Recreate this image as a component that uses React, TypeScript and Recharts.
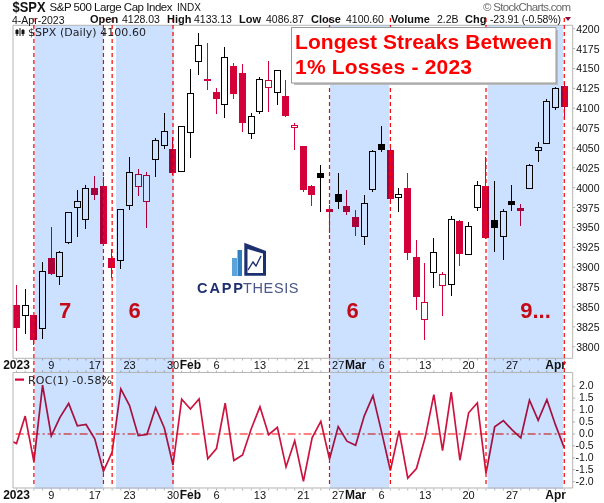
import React from "react";
import { ComposedChart, Bar, Line, XAxis, YAxis, ReferenceArea, ReferenceLine } from "recharts";

// ---- values ---------------------------------------------------------------
const sessions = ["Jan 3","Jan 4","Jan 5","Jan 6","Jan 9","Jan 10","Jan 11","Jan 12","Jan 13","Jan 17","Jan 18","Jan 19","Jan 20","Jan 23","Jan 24","Jan 25","Jan 26","Jan 27","Jan 30","Jan 31",
  "Feb 1","Feb 2","Feb 3","Feb 6","Feb 7","Feb 8","Feb 9","Feb 10","Feb 13","Feb 14","Feb 15","Feb 16","Feb 17","Feb 21","Feb 22","Feb 23","Feb 24","Feb 27","Feb 28",
  "Mar 1","Mar 2","Mar 3","Mar 6","Mar 7","Mar 8","Mar 9","Mar 10","Mar 13","Mar 14","Mar 15","Mar 16","Mar 17","Mar 20","Mar 21","Mar 22","Mar 23","Mar 24","Mar 27","Mar 28","Mar 29","Mar 30","Mar 31","Apr 3","Apr 4"];
const opens = [3853,3840,3840,3823,3911,3889,3932,3976,3961,3999,4002,3912,3909,3978,4002,3983,4036,4054,4049,4021,
  4070,4159,4137,4120,4105,4153,4144,4069,4097,4127,4120,4115,4077,4052,4002,4018,3973,3992,3977,
  3963,3939,3998,4055,4048,3988,3999,3913,3835,3894,3877,3879,3958,3917,3976,4002,3959,3939,3983,3974,4000,4047,4056,4102,4128];
const highs = [3878,3873,3840,3906,3951,3920,3970,3997,4004,4015,4014,3923,3973,4039,4024,4020,4062,4094,4064,4077,
  4149,4195,4182,4125,4177,4157,4156,4094,4139,4160,4148,4136,4082,4052,4003,4028,3978,4018,3997,
  3972,3991,4048,4078,4050,4000,4018,3934,3905,3937,3894,3964,3959,3957,4009,4039,4008,3973,4004,3979,4030,4058,4111,4127,4133];
const lows = [3794,3816,3802,3810,3890,3877,3929,3938,3948,3985,3927,3886,3898,3972,3990,3949,4013,4049,4016,4020,
  4037,4142,4123,4093,4088,4112,4070,4061,4093,4095,4104,4089,4048,3995,3977,3969,3943,3973,3966,
  3939,3928,3995,4045,3981,3970,3909,3846,3809,3874,3838,3864,3901,3917,3971,3936,3919,3909,3971,3952,3999,4032,4056,4098,4087];
const closes = [3824,3853,3808,3895,3892,3919,3970,3983,3999,3991,3929,3899,3973,4020,4017,4016,4060,4071,4018,4077,
  4119,4180,4136,4111,4164,4118,4082,4090,4137,4136,4148,4090,4079,3997,3991,4012,3970,3982,3970,
  3951,3981,4046,4048,3986,3992,3918,3862,3856,3919,3892,3960,3917,3952,4003,3937,3949,3971,3978,3971,4028,4051,4109,4125,4101];
const rocValues = [-0.40,0.75,-1.16,2.05,-0.08,0.70,1.28,0.34,0.40,-0.20,-1.56,-0.76,1.89,1.19,-0.07,-0.02,1.10,0.25,-1.30,1.46,
  1.05,1.47,-1.04,-0.61,1.29,-1.11,-0.88,0.22,1.14,-0.03,0.28,-1.38,-0.28,-1.98,-0.16,0.53,-1.05,0.31,-0.30,
  -0.47,0.76,1.61,0.07,-1.53,0.14,-1.85,-1.45,-0.15,1.65,-0.70,1.76,-1.10,0.89,1.30,-1.65,0.30,0.56,0.17,-0.16,1.42,0.57,1.44,0.37,-0.58];
const rocBeforeFirst = -0.33;

const priceTicks = [3800,3825,3850,3875,3900,3925,3950,3975,4000,4025,4050,4075,4100,4125,4150,4175,4200];
const rocTicks = [-2,-1.5,-1,-0.5,0,0.5,1,1.5,2];
const dateLabels: Record<number, [string, boolean]> = {
  0:["2023",true],4:["9",false],9:["17",false],13:["23",false],18:["30",false],20:["Feb",true],23:["6",false],28:["13",false],33:["21",false],
  37:["27",false],39:["Mar",true],42:["6",false],47:["13",false],52:["20",false],57:["27",false],62:["Apr",true],
};
const streakMarkers = [2,10,11,18,36,43,54,63];
const streakBands: [number, number][] = [[2.07,10],[11.44,18.08],[36.05,42.87],[54.19,62.87]];
const streakLabels: [string, number][] = [["7",65],["6",134.7],["6",352.7],["9...",535.5]];

// ---- chart table ----------------------------------------------------------
const table: any[] = [
  { i: -0.4, roc: rocBeforeFirst },
  ...sessions.map((s, i) => ({ i, s, open: opens[i], high: highs[i], low: lows[i], close: closes[i], roc: rocValues[i], range: [lows[i], highs[i]] })),
];

const RED = "#d4003a";
const FRAME = "#b4b4b4";
const W = 604, H = 503;
const UI = "'Liberation Sans', Arial, sans-serif";
const WIDE = "'DejaVu Sans', Verdana, sans-serif";
const X_DOMAIN: [number, number] = [-0.4025, 63.97];
const PRICE_DOMAIN: [number, number] = [3621, 4213.46];
const ROC_DOMAIN: [number, number] = [-2.306, 17.44];

function Candle(props: any) {
  const { x, y, width, height, payload } = props;
  if (!payload || payload.open == null) return null;
  const { open, high, low, close, i } = payload;
  const toY = (v: number) => y + ((high - v) / (high - low)) * height;
  const cx = Math.floor(x + width / 2) + 0.5;
  const down = rocValues[i] < 0;
  const color = down ? RED : "#000";
  const hollow = close > open;
  const top = Math.round(toY(Math.max(open, close)));
  const bottom = Math.round(toY(Math.min(open, close)));
  const bodyH = Math.max(bottom - top, 2);
  return (
    <g>
      <line x1={cx} x2={cx} y1={Math.round(y)} y2={Math.round(y + height)} stroke={color} strokeWidth={1} />
      {hollow ? (
        <rect x={cx - 3} y={top + 0.5} width={6} height={bodyH} fill="#fff" stroke={color} strokeWidth={1} />
      ) : (
        <rect x={cx - 3.5} y={top} width={7} height={bodyH} fill={color} />
      )}
    </g>
  );
}

function DateTick(props: any) {
  const { x, payload } = props;
  const lab = dateLabels[payload.value];
  return (
    <g>
      {[358.5, 488.5].map((yy) => (
        <line key={yy} x1={x} x2={x} y1={yy} y2={yy + 2} stroke={FRAME} />
      ))}
      {[372.5].map((yy) => (
        <line key={yy} x1={x} x2={x} y1={yy - 2} y2={yy} stroke={FRAME} />
      ))}
      {lab &&
        [369, 499].map((yy) => (
          <text key={yy} x={x} y={yy} textAnchor="middle" fontFamily={UI} fontSize={lab[1] ? 12 : 11} fontWeight={lab[1] ? 700 : 400} fill="#111">
            {lab[0]}
          </text>
        ))}
    </g>
  );
}

function PriceTick(props: any) {
  const { x, y, payload } = props;
  const base = x - 8;
  return (
    <g>
      <line x1={base} x2={base + 2.5} y1={y} y2={y} stroke={FRAME} />
      <text x={base + 3.5} y={y + 4} fontFamily={UI} fontSize={10.5} fill="#111">{payload.value}</text>
    </g>
  );
}

function RocTick(props: any) {
  const { x, y, payload } = props;
  const base = x - 9;
  return (
    <g>
      <line x1={base} x2={base + 2.5} y1={y} y2={y} stroke={FRAME} />
      <text x={base + 21} y={y + 3} textAnchor="end" fontFamily={UI} fontSize={10.5} fill="#111">{payload.value.toFixed(1)}</text>
    </g>
  );
}

// A layer without visible axes, sharing the main chart's plot rectangle.
function Layer({ children, blend }: { children: React.ReactNode; blend?: boolean }) {
  return (
    <div style={{ position: "absolute", left: 0, top: 0, pointerEvents: "none", mixBlendMode: blend ? "multiply" : undefined }}>
      <ComposedChart width={W} height={H} data={table} margin={{ top: 18, right: 31.3, bottom: 14, left: 13 }}>
        <XAxis dataKey="i" type="number" domain={X_DOMAIN} allowDataOverflow hide />
        <YAxis yAxisId="price" orientation="right" type="number" domain={PRICE_DOMAIN} allowDataOverflow hide />
        <YAxis yAxisId="roc" orientation="right" type="number" domain={ROC_DOMAIN} allowDataOverflow hide />
        {children}
      </ComposedChart>
    </div>
  );
}

function Overlay() {
  const t = (x: number, y: number, s: string, size: number, bold = false, fam = UI, fill = "#111", extra: any = {}) => (
    <text x={x} y={y} fontFamily={fam} fontSize={size} fontWeight={bold ? 700 : 400} fill={fill} {...extra}>{s}</text>
  );
  return (
    <svg width={W} height={H} style={{ position: "absolute", left: 0, top: 0, pointerEvents: "none" }}>
      {t(12.5, 11.5, "$SPX", 14, true, UI, "#111", { textLength: 33, lengthAdjust: "spacingAndGlyphs" })}
      {t(49.5, 11, "S&P 500 Large Cap Index", 11.5, false, UI, "#111", { textLength: 123 })}
      {t(177, 11, "INDX", 10, false, UI, "#111", { textLength: 24 })}
      {t(12, 23.5, "4-Apr-2023", 10.5, false, UI)}
      {t(90, 23, "Open", 11, true, UI)}{t(122, 23, "4128.03", 10.5, false, UI)}
      {t(167, 23, "High", 11, true, UI)}{t(194, 23, "4133.13", 10.5, false, UI)}
      {t(239, 23, "Low", 11, true, UI)}{t(266, 23, "4086.87", 10.5, false, UI)}
      {t(311, 23, "Close", 11, true, UI)}{t(346, 23, "4100.60", 10.5, false, UI)}
      {t(391, 23, "Volume", 11, true, UI)}{t(437, 23, "2.2B", 10.5, false, UI)}
      {t(465, 23, "Chg", 11, true, UI)}{t(490, 23, "-23.91 (-0.58%)", 10.5, false, UI, "#111", { textLength: 71 })}
      <polygon points="565,17 571,17 568,21" fill="#8a0a3a" />
      {t(483, 11, "\u00a9 StockCharts.com", 11.5, false, UI, "#666", { textLength: 88 })}
      {t(28, 36, "$SPX (Daily) 4100.60", 11, false, WIDE, "#222", { textLength: 118 })}
      <g stroke="#111" strokeWidth={1}><line x1={17} x2={17} y1={29} y2={36}/><line x1={20} x2={20} y1={28} y2={36}/><line x1={23} x2={23} y1={29} y2={36}/></g>
      <rect x={15.5} y={30} width={3} height={4} fill="#111"/><rect x={21.5} y={30} width={3} height={4} fill="#111"/>
      <rect x={15} y={378.5} width={9} height={2.2} fill={RED} />
      {t(28, 383.5, "ROC(1) -0.58%", 11, false, WIDE, "#222", { textLength: 84 })}

      <rect x={294} y={30} width={264} height={55} fill="#bbb" />
      <rect x={291.5} y={27.5} width={264.5} height={55.5} fill="#fff" stroke="#999" />
      {t(295, 49, "Longest Streaks Between", 21, true, UI, "#f00", { textLength: 257 })}
      {t(295, 74, "1% Losses - 2023", 21, true, UI, "#f00", { textLength: 177 })}

      {streakLabels.map(([s, x], k) => (
        <text key={k} x={x} y={318} textAnchor="middle" fontFamily={UI} fontSize={22} fontWeight={700} fill="#c40a14">{s}</text>
      ))}

      <rect x={232} y={258} width={5} height={18} fill="#5ba3d9" />
      <rect x={237.5} y={250} width={4.5} height={26} fill="#2f7fc0" />
      <polygon points="244.3,242.7 266,251 266,275.7 244.3,275.7" fill="#1d2f6f" />
      <polygon points="247.5,249 263,253.5 263,273 247.5,273" fill="#fff" />
      <polyline points="248,270 253,262 256,266 261,256" fill="none" stroke="#1d2f6f" strokeWidth={1.4} />
      <text x={197} y={292.7} fontFamily={UI} fontSize={14.5} fontWeight={700} fill="#1d2f6f" textLength={46}>CAPP</text>
      <text x={243} y={292.7} fontFamily={UI} fontSize={14.5} fill="#4a5688" textLength={55.5}>THESIS</text>
    </svg>
  );
}

export default function App() {
  return (
    <div style={{ position: "absolute", left: 0, top: 0, width: W, height: H, background: "#fff" }}>
      <ComposedChart width={W} height={H} data={table} margin={{ top: 18, right: 29.3, bottom: 13, left: 13 }}>
        <XAxis
          dataKey="i"
          type="number"
          domain={X_DOMAIN}
          allowDataOverflow
          ticks={sessions.map((_, i) => i)}
          interval={0}
          height={1}
          axisLine={false}
          tickLine={false}
          tick={<DateTick />}
        />
        <YAxis yAxisId="price" orientation="right" type="number" domain={PRICE_DOMAIN} allowDataOverflow ticks={priceTicks} interval={0} width={1} axisLine={false} tickLine={false} tick={<PriceTick />} />
        <YAxis yAxisId="roc" orientation="right" type="number" domain={ROC_DOMAIN} allowDataOverflow ticks={rocTicks} interval={0} width={1} axisLine={false} tickLine={false} tick={<RocTick />} />

        <Bar yAxisId="price" dataKey="range" barSize={7} shape={<Candle />} isAnimationActive={false} />
        <ReferenceLine yAxisId="roc" stroke="#f00" strokeWidth={1} strokeDasharray="8 3 2 3" segment={[{ x: -0.1, y: 0 }, { x: 63.2, y: 0 }]} />
        <Line yAxisId="roc" dataKey="roc" stroke="#cc1440" strokeWidth={1.7} dot={false} activeDot={false} isAnimationActive={false} />
      </ComposedChart>

      <Layer blend>
        {streakBands.map(([a, b], k) => (
          <ReferenceArea key={k} yAxisId="price" x1={a} x2={b} y1={PRICE_DOMAIN[0]} y2={4204.3} fill="#cce0ff" fillOpacity={1} stroke="none" />
        ))}
      </Layer>

      <Layer>
        {streakMarkers.map((m) => (
          <ReferenceLine key={m} yAxisId="price" stroke="#f00" strokeWidth={1.2} strokeDasharray="4 3" segment={[{ x: m, y: PRICE_DOMAIN[1] }, { x: m, y: 3626 }]} />
        ))}
        <ReferenceArea yAxisId="price" x1={X_DOMAIN[0]} x2={X_DOMAIN[1]} y1={3785.4} y2={4204.3} fill="none" stroke={FRAME} />
        <ReferenceArea yAxisId="roc" x1={X_DOMAIN[0]} x2={X_DOMAIN[1]} y1={-2.264} y2={2.58} fill="none" stroke={FRAME} />
      </Layer>

      <Overlay />
    </div>
  );
}
